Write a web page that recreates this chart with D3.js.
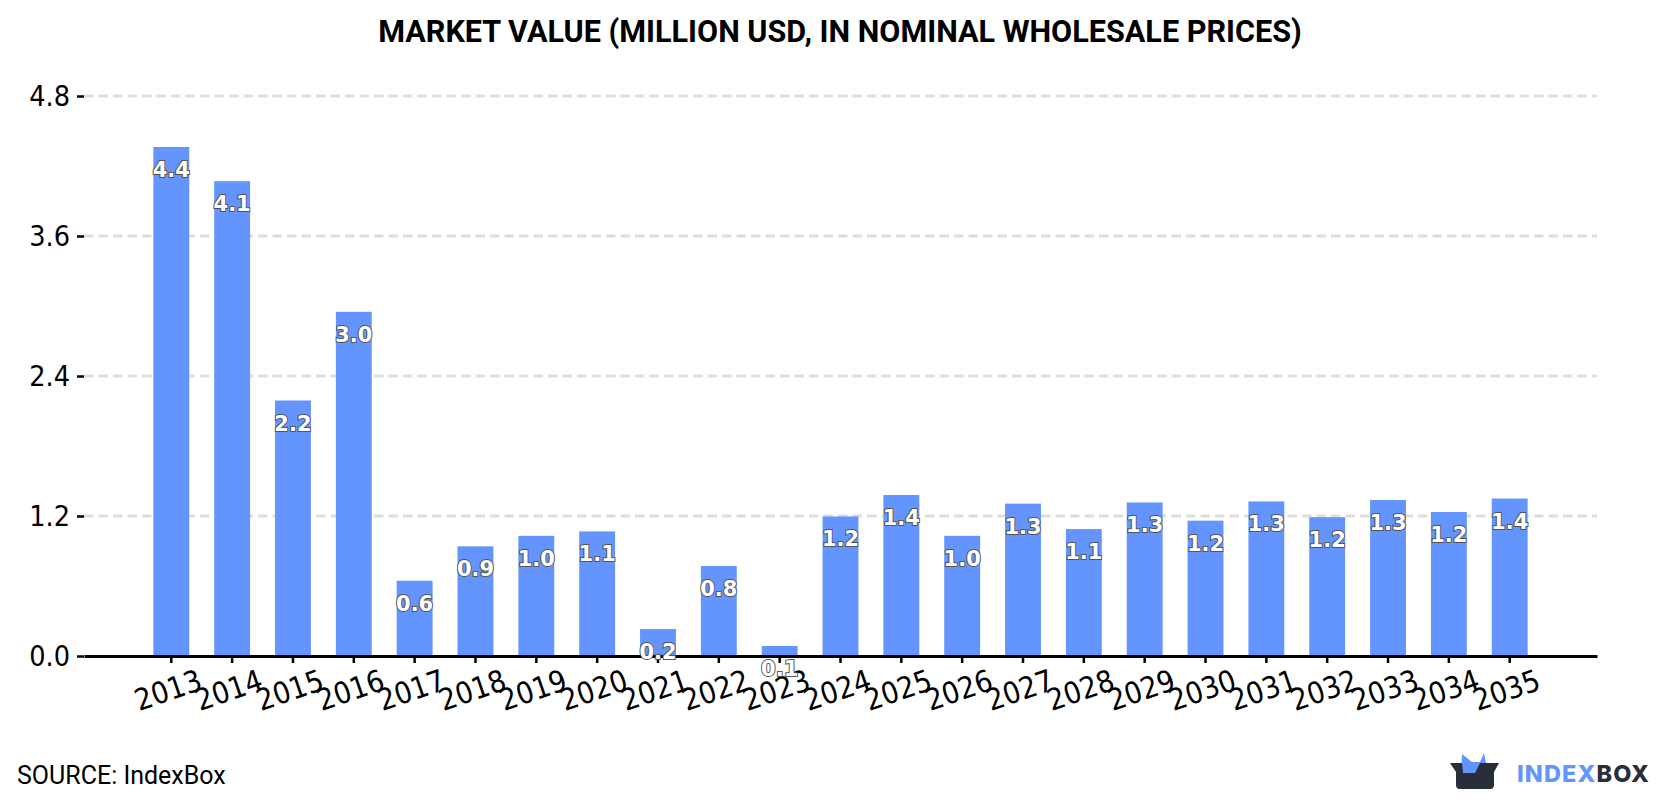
<!DOCTYPE html>
<html>
<head>
<meta charset="utf-8">
<script src="https://cdn.jsdelivr.net/npm/d3@7"></script>
<style>
html,body{margin:0;padding:0;background:#fff;overflow:hidden}
svg{display:block}
text{font-family:"DejaVu Sans",sans-serif}
</style>
</head>
<body>
<svg id="chart" width="1680" height="800"></svg>
<script>
// Market value by year, million USD
const years = d3.range(2013, 2036).map(String);
const values = [4.363, 4.07, 2.19, 2.95, 0.645, 0.94, 1.03, 1.068, 0.231, 0.771, 0.086,
  1.196, 1.38, 1.03, 1.306, 1.088, 1.316, 1.16, 1.325, 1.19, 1.337, 1.234, 1.35];
const yTicks = [0, 1.2, 2.4, 3.6, 4.8];

const titleText = "MARKET VALUE (MILLION USD, IN NOMINAL WHOLESALE PRICES)";
const sourceText = "SOURCE: IndexBox";

const svg = d3.select("#chart");
const plotLeft = 84, plotRight = 1597, plotTop = 96, plotBottom = 656;

const x = d3.scaleBand().domain(years).range([plotLeft, plotRight])
  .paddingInner(0.41).paddingOuter(1.14);
const y = d3.scaleLinear().domain([0, 4.8]).range([plotBottom, plotTop]);

// Title
svg.append("text").attr("x", 840).attr("y", 42).attr("text-anchor", "middle")
  .style("font-family", "Roboto").style("font-weight", 700).style("font-size", "30.6px")
  .attr("fill", "#000").text(titleText);

// Dashed horizontal grid
svg.append("g").selectAll("line").data(yTicks.filter(d => d > 0)).join("line")
  .attr("x1", plotLeft).attr("x2", plotRight)
  .attr("y1", d => y(d)).attr("y2", d => y(d))
  .attr("stroke", "#dedede").attr("stroke-width", 3).attr("stroke-dasharray", "9.5 5");

// Bars
svg.append("g").selectAll("rect").data(years).join("rect")
  .attr("x", d => x(d)).attr("width", x.bandwidth())
  .attr("y", (d, i) => y(values[i]))
  .attr("height", (d, i) => y(0) - y(values[i]))
  .attr("fill", "#6495ff");

// Y axis ticks and labels
const yAxis = svg.append("g").attr("transform", `translate(${plotLeft},0)`)
  .call(d3.axisLeft(y).tickValues(yTicks).tickFormat(d3.format(".1f")).tickSize(7).tickPadding(7));
yAxis.select(".domain").remove();
yAxis.selectAll(".tick line").attr("stroke", "#000").attr("stroke-width", 2.5);
yAxis.selectAll(".tick text").attr("fill", "#000")
  .style("font-family", "DejaVu Sans Condensed").style("font-size", "28.5px");

// X axis with slanted year labels
const xAxis = svg.append("g").attr("transform", `translate(0,${plotBottom})`)
  .call(d3.axisBottom(x).tickSize(7).tickSizeOuter(0));
xAxis.select(".domain").attr("stroke", "#000").attr("stroke-width", 3);
xAxis.selectAll(".tick line").attr("stroke", "#000").attr("stroke-width", 2.5);
xAxis.selectAll(".tick text")
  .attr("fill", "#000")
  .attr("text-anchor", "middle")
  .attr("dy", null).attr("y", null)
  .attr("transform", "translate(-2.6,36) rotate(-19)")
  .attr("dominant-baseline", "middle")
  .style("font-family", "DejaVu Sans Condensed").style("font-size", "30px");

// Value labels, placed just inside the top of each bar
svg.append("g").selectAll("text").data(years).join("text")
  .attr("x", d => x(d) + x.bandwidth() / 2)
  .attr("y", (d, i) => y(values[i]) + 30)
  .attr("text-anchor", "middle")
  .style("font-family", "DejaVu Sans").style("font-weight", 700).style("font-size", "21px")
  .attr("fill", "#fff").attr("stroke", "#555").attr("stroke-width", 2)
  .attr("paint-order", "stroke")
  .text((d, i) => values[i].toFixed(1));

// Source line
svg.append("text").attr("x", 17).attr("y", 784)
  .style("font-family", "Roboto").style("font-size", "25px").attr("fill", "#000")
  .text(sourceText);

// Brand mark and wordmark
const logo = svg.append("g");
logo.append("path")
  .attr("d", "M1461 775 L1462 754 L1472 762 L1480 762 L1484 753 L1486 763 L1480 775 Z")
  .attr("fill", "#6495ff");
logo.append("path")
  .attr("d", "M1450 763 L1462 763 L1463 773 L1475 773 L1480 763 L1499 763 L1494 772 L1494 785 Q1494 789 1490 789 L1460 789 Q1456 789 1456 785 L1456 772 Z")
  .attr("fill", "#2a2d3a");
const word = logo.append("text").attr("x", 1517).attr("y", 782)
  .style("font-family", "Inter").style("font-weight", 800).style("font-size", "23.5px")
  .attr("letter-spacing", "1.1");
word.append("tspan").attr("fill", "#6495ff").text("INDEX");
word.append("tspan").attr("fill", "#2a2d3a").text("BOX");
</script>
</body>
</html>
